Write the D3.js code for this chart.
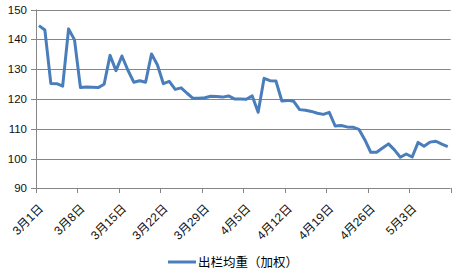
<!DOCTYPE html>
<html>
<head>
<meta charset="utf-8">
<script src="https://cdn.jsdelivr.net/npm/d3@7"></script>
<style>
  body { margin: 0; background: #fff; }
  text { font-family: "Liberation Sans", "Noto Sans CJK SC", sans-serif; }
</style>
</head>
<body>
<div id="main"></div>
<script>
/* Define Size */
const width = 462, height = 272;
const margin = {left: 36, right: 11.3, top: 9.5, bottom: 83.7};

/* Define Data */
const startDate = new Date(Date.UTC(2021, 2, 1));   // 3月1日
const endDate = new Date(Date.UTC(2021, 4, 10));    // axis end (5月10日)
const values = [
  144.6, 143.1, 125.2, 125.1, 124.3, 143.5, 139.8, 123.8, 124.0, 123.9,
  123.8, 124.9, 134.6, 129.5, 134.4, 129.7, 125.6, 126.1, 125.6, 135.1,
  131.4, 125.1, 125.9, 123.2, 123.7, 121.9, 120.2, 120.2, 120.4, 120.9,
  120.8, 120.6, 121.0, 120.0, 120.0, 119.9, 121.0, 115.5, 126.9, 126.1,
  126.0, 119.3, 119.5, 119.2, 116.4, 116.2, 115.8, 115.2, 114.8, 115.5,
  110.9, 111.1, 110.6, 110.5, 109.8, 106.3, 102.1, 102.1, 103.5, 104.9,
  102.9, 100.4, 101.5, 100.5, 105.4, 104.1, 105.5, 105.8, 104.8, 104.0
];
const dates = d3.utcDay.range(startDate, endDate);
const yTicks = [90, 100, 110, 120, 130, 140, 150];
const tickDates = d3.utcDay.range(startDate, d3.utcDay.offset(endDate, 1), 7);
const tickLabels = ["3月1日", "3月8日", "3月15日", "3月22日", "3月29日", "4月5日", "4月12日", "4月19日", "4月26日", "5月3日"];
const seriesName = "出栏均重（加权）";

const svg = d3.select("#main").append("svg").attr("width", width).attr("height", height);

/* Scales */
const x = d3.scaleUtc().domain([startDate, endDate]).range([margin.left, width - margin.right]);
const y = d3.scaleLinear().domain([90, 150]).range([height - margin.bottom, margin.top]);

/* Grid + y axis */
const grid = svg.append("g");
grid.selectAll("line").data(yTicks).enter().append("line")
  .attr("x1", margin.left - 5).attr("x2", width - margin.right)
  .attr("y1", d => Math.round(y(d)) + 0.5).attr("y2", d => Math.round(y(d)) + 0.5)
  .attr("stroke", "#868686").attr("stroke-width", 1);

svg.append("line")
  .attr("x1", margin.left + 0.5).attr("x2", margin.left + 0.5)
  .attr("y1", margin.top).attr("y2", y(90))
  .attr("stroke", "#868686");

svg.append("g").selectAll("text").data(yTicks).enter().append("text")
  .attr("x", 27).attr("y", d => y(d) + 4)
  .attr("text-anchor", "end")
  .style("font-size", "11.5px").style("fill", "#111")
  .text(d => d);

/* x axis ticks */
const xa = svg.append("g");
xa.selectAll("line").data(tickDates).enter().append("line")
  .attr("x1", d => Math.round(x(d)) + 0.5).attr("x2", d => Math.round(x(d)) + 0.5)
  .attr("y1", Math.round(y(90))).attr("y2", Math.round(y(90)) + 5)
  .attr("stroke", "#868686");

xa.selectAll("text").data(tickLabels).enter().append("text")
  .attr("transform", (d, i) => `translate(${x(tickDates[i]) + 8},${y(90) + 21}) rotate(-45)`)
  .attr("text-anchor", "end")
  .style("font-size", "12px").style("fill", "#111")
  .text(d => d);

/* Line */
const line = d3.line()
  .x((d, i) => x(d3.utcHour.offset(dates[i], 12)))
  .y(d => y(d));

svg.append("path")
  .datum(values)
  .attr("d", line)
  .attr("fill", "none")
  .attr("stroke", "#4A7EBB")
  .attr("stroke-width", 3)
  .attr("stroke-linejoin", "round");

/* Legend */
const lg = svg.append("g").attr("transform", "translate(168,262)");
lg.append("line").attr("x1", 0).attr("x2", 28).attr("y1", 0).attr("y2", 0)
  .attr("stroke", "#4A7EBB").attr("stroke-width", 3);
lg.append("text").attr("x", 30).attr("y", 4.5)
  .style("font-size", "12.5px").style("fill", "#000")
  .text(seriesName);
</script>
</body>
</html>
